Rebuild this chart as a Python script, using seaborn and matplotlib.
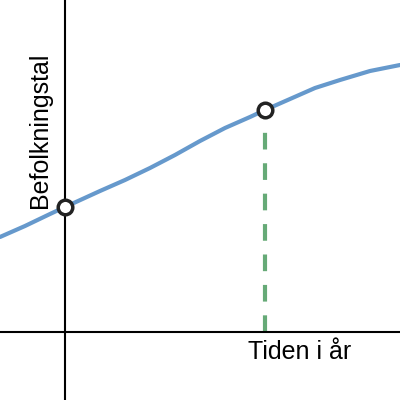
import matplotlib
matplotlib.use("Agg")
import matplotlib.pyplot as plt
import seaborn as sns
import pandas as pd

t = [-65, -40, -15, 0, 35, 60, 85, 110, 135, 160, 185, 200, 225, 250, 275, 305, 335]
pop = [95, 106, 118, 125, 141, 152, 164, 177, 191, 204, 215, 222, 233, 244, 252, 261, 267]
pts_t = [0, 200]
pts_p = [125, 222]
xlabel = "Tiden i år"
ylabel = "Befolkningstal"

sns.set_style("white")
plt.rcParams["font.family"] = ["Liberation Sans", "DejaVu Sans"]
fig = plt.figure(figsize=(4, 4), dpi=100)
ax = fig.add_axes([0, 0, 1, 1])
df = pd.DataFrame({"t": t, "p": pop})
sns.lineplot(data=df, x="t", y="p", ax=ax, color="#6699cc", linewidth=3)
ax.plot([200, 200], [0, 222], color="#66aa77", linewidth=3, linestyle=(0, (4, 3.3)))
ax.axhline(0, color="black", linewidth=1.5)
ax.axvline(0, color="black", linewidth=1.5)
ax.scatter(pts_t, pts_p, s=110, facecolor="white", edgecolor="#222222", linewidth=2.5, zorder=5)
ax.set_xlim(-65, 335)
ax.set_ylim(-68, 332)
ax.axis("off")
ax.text(300 - 65, -20, xlabel, fontsize=18, ha="center", va="center", color="black")
ax.text(40 - 65, 332 - 130, ylabel, fontsize=18, ha="center", va="center", rotation=90, color="black")
fig.savefig("out.png", dpi=100)
